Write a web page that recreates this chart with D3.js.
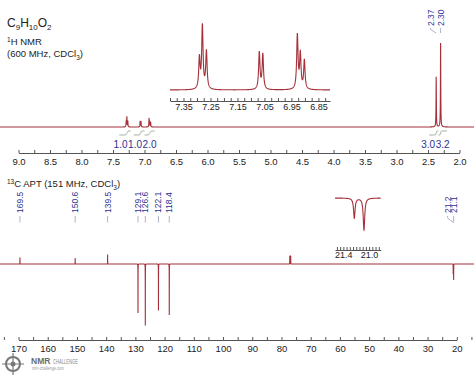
<!DOCTYPE html>
<html>
<head>
<meta charset="utf-8">
<script src="https://cdn.jsdelivr.net/npm/d3@7"></script>
<style>
body { margin: 0; background: #fff; }
text { font-family: "Liberation Sans", Arial, sans-serif; }
</style>
</head>
<body>
<svg width="474" height="376"></svg>
<script>
var svg = d3.select('svg')

// 1H peaks: ppm and intensity
var hPpm = [7.291, 7.280, 7.265, 7.069, 7.056, 6.928, 6.917, 6.902, 2.370, 2.300]
var hAmp = [4.9, 10, 6.0, 5.9, 5.6, 8.6, 5.6, 4.6, 50, 84]
var hLabelPpm = [2.37, 2.30]
// integrals
var intFrom = [7.40, 7.17, 7.00, 2.48, 2.335]
var intTo = [7.22, 7.00, 6.84, 2.335, 2.20]
var intVal = ['1.0', '1.0', '2.0', '3.0', '3.2']
var hTicks = d3.range(2, 9.001, 0.25)
var hInsetTicks = d3.range(6.825, 7.401, 0.025)
var hInsetLabels = [7.35, 7.25, 7.15, 7.05, 6.95, 6.85]

// 13C APT peaks: ppm and intensity (negative = CH/CH3)
var cPpm = [169.5, 150.6, 139.5, 129.1, 126.6, 122.1, 118.4, 77.16, 77.0, 76.84, 21.23, 21.08]
var cAmp = [6.5, 6, 9.5, -49, -61.5, -46.5, -51, 8, 8.5, 8, -10, -16]
var cLabelPpm = [169.5, 150.6, 139.5, 129.1, 126.6, 122.1, 118.4, 21.23, 21.08]
var cTicks = d3.range(15, 176, 5)
var cInsetTicks = d3.range(20.85, 21.51, 0.05)
var cInsetLabels = [21.4, 21.0]

var lineCol = '#a5303a'
var labCol = '#2e3192'
var fmt1 = d3.format('.1f')
var fmt2 = d3.format('.2f')

function lorentz (ppm, amp, hw) {
  return function (x) {
    var s = 0
    for (var i = 0; i < ppm.length; i++) {
      var u = (x - ppm[i]) / hw
      s += amp[i] / (1 + u * u)
    }
    return s
  }
}

function samples (lo, hi, step, ppm, hw) {
  var xs = d3.range(lo, hi, step)
  ppm.forEach(function (p) {
    d3.range(p - 40 * hw, p + 40 * hw, hw / 6).forEach(function (x) {
      if (x > lo && x < hi) xs.push(x)
    })
  })
  xs.push(hi)
  return xs.sort(d3.ascending)
}

// spread labels so they keep a minimum gap (right to left)
function spread (xs, gap) {
  var out = xs.slice()
  for (var i = out.length - 2; i >= 0; i--) {
    if (out[i + 1] - out[i] < gap) out[i] = out[i + 1] - gap
  }
  return out
}

function drawAxis (scale, y, ticks, labels, fmt, size, pad) {
  var g = svg.append('g')
    .attr('transform', 'translate(0,' + y + ')')
    .call(d3.axisBottom(scale)
      .tickValues(ticks)
      .tickSizeInner(-3)
      .tickSizeOuter(0)
      .tickPadding(pad)
      .tickFormat(function (d) {
        var hit = labels.some(function (l) { return Math.abs(l - d) < 1e-6 })
        return hit ? fmt(d) : ''
      }))
  g.select('.domain').attr('stroke', '#555')
  g.selectAll('.tick line').attr('stroke', '#555')
  g.selectAll('.tick text')
    .attr('fill', '#222')
    .style('font-size', size + 'px')
    .style('font-family', '"Liberation Sans", Arial, sans-serif')
  return g
}

// ---------- titles ----------
var t1 = svg.append('text').attr('x', 7).attr('y', 27).attr('fill', '#222').style('font-size', '12px')
t1.append('tspan').text('C')
t1.append('tspan').text('9').attr('dy', 3).style('font-size', '8px')
t1.append('tspan').text('H').attr('dy', -3)
t1.append('tspan').text('10').attr('dy', 3).style('font-size', '8px')
t1.append('tspan').text('O').attr('dy', -3)
t1.append('tspan').text('2').attr('dy', 3).style('font-size', '8px')

var t2 = svg.append('text').attr('x', 7).attr('y', 45).attr('fill', '#222').style('font-size', '9.5px')
t2.append('tspan').text('1').attr('dy', -3).style('font-size', '6.5px')
t2.append('tspan').text('H NMR').attr('dy', 3)

var t3 = svg.append('text').attr('x', 7).attr('y', 57).attr('fill', '#222').style('font-size', '9.5px')
t3.append('tspan').text('(600 MHz, CDCl')
t3.append('tspan').text('3').attr('dy', 2.5).style('font-size', '6.5px')
t3.append('tspan').text(')').attr('dy', -2.5)

var t4 = svg.append('text').attr('x', 7).attr('y', 187).attr('fill', '#222').style('font-size', '9.5px')
t4.append('tspan').text('13').attr('dy', -3).style('font-size', '6.5px')
t4.append('tspan').text('C APT (151 MHz, CDCl').attr('dy', 3)
t4.append('tspan').text('3').attr('dy', 2.5).style('font-size', '6.5px')
t4.append('tspan').text(')').attr('dy', -2.5)

// ---------- 1H main spectrum ----------
var hx = d3.scaleLinear().domain([9.0, 2.0]).range([18.5, 459.5])
var hy = d3.scaleLinear().domain([0, 84]).range([127, 43])
var hHw = 0.003
var hf = lorentz(hPpm, hAmp, hHw)
var hLo = hx.invert(474), hHi = hx.invert(0)
var hxs = samples(hLo, hHi, 0.01, hPpm, hHw)

var line1 = d3.line()
  .x(function (d) { return hx(d) })
  .y(function (d) { return hy(hf(d)) })

svg.append('path')
  .attr('d', line1(hxs))
  .attr('fill', 'none')
  .attr('stroke', lineCol)
  .attr('stroke-width', 1.1)

drawAxis(hx, 153, hTicks, d3.range(2, 9.01, 0.5), fmt1, 9.5, 5)

// integrals
var intMid = intFrom.map(function (f, i) { return hx((f + intTo[i]) / 2) })
var intLab = spread(intMid, 14.5)
intFrom.forEach(function (f, i) {
  var to = intTo[i]
  var F = function (x) {
    var s = 0
    hPpm.forEach(function (p, k) {
      if (p <= f && p >= to) s += hAmp[k] * Math.atan((x - p) / hHw)
    })
    return s
  }
  var total = F(f) - F(to)
  var xs = d3.range(to, f, (f - to) / 80).concat([f])
  var il = d3.line()
    .x(function (d) { return hx(d) })
    .y(function (d) { return 135 - 4 * (F(f) - F(d)) / total })
  svg.append('path')
    .attr('d', il(xs))
    .attr('fill', 'none')
    .attr('stroke', '#7d9c7d')
    .attr('stroke-width', 0.8)
  svg.append('text')
    .attr('x', intLab[i])
    .attr('y', 148)
    .attr('text-anchor', 'middle')
    .attr('fill', labCol)
    .style('font-size', '10px')
    .text(intVal[i])
})

// 1H peak labels
var hPk = hLabelPpm.map(function (p) { return hx(p) })
var hLab = spread(hPk, 10)
hLabelPpm.forEach(function (p, i) {
  svg.append('text')
    .attr('transform', 'translate(' + hLab[i] + ',26) rotate(-90)')
    .attr('dy', '0.35em')
    .attr('fill', labCol)
    .style('font-size', '8.5px')
    .text(fmt2(p))
  svg.append('path')
    .attr('d', d3.line()([[hLab[i], 28], [hLab[i], 29.5], [hPk[i], 33]]))
    .attr('fill', 'none')
    .attr('stroke', '#8a8fb0')
    .attr('stroke-width', 0.7)
})

// ---------- 1H inset ----------
var ix = d3.scaleLinear().domain([7.40, 6.807]).range([170, 330])
var iy = d3.scaleLinear().domain([0, 10]).range([90, 27])
var ixs = samples(6.807, 7.40, 0.002, hPpm.filter(function (p) { return p > 6.8 }), hHw)
svg.append('path')
  .attr('d', d3.line()
    .x(function (d) { return ix(d) })
    .y(function (d) { return iy(hf(d)) })(ixs))
  .attr('fill', 'none')
  .attr('stroke', lineCol)
  .attr('stroke-width', 1.1)

drawAxis(ix, 101, hInsetTicks, hInsetLabels, fmt2, 9, 3)

// ---------- 13C main spectrum ----------
var cx = d3.scaleLinear().domain([170, 20]).range([18.5, 456.8])
var cy = d3.scaleLinear().domain([0, -61.5]).range([264, 325.5])
var cHw = 0.014
var cf = lorentz(cPpm, cAmp, cHw)
var cxs = samples(cx.invert(474), cx.invert(0), 0.1, cPpm, cHw)

svg.append('path')
  .attr('d', d3.line()
    .x(function (d) { return cx(d) })
    .y(function (d) { return cy(cf(d)) })(cxs))
  .attr('fill', 'none')
  .attr('stroke', lineCol)
  .attr('stroke-width', 1.1)

drawAxis(cx, 340, cTicks, d3.range(20, 171, 10), d3.format('d'), 9.5, 5)

// 13C labels
var cPk = cLabelPpm.map(function (p) { return cx(p) })
var cLab = spread(cPk, 6)
cLabelPpm.forEach(function (p, i) {
  svg.append('text')
    .attr('transform', 'translate(' + cLab[i] + ',213) rotate(-90)')
    .attr('dy', '0.35em')
    .attr('fill', labCol)
    .style('font-size', '8.5px')
    .text(fmt1(p))
  svg.append('path')
    .attr('d', d3.line()([[cLab[i], 216], [cLab[i], 218], [cPk[i], 222.5]]))
    .attr('fill', 'none')
    .attr('stroke', '#8a8fb0')
    .attr('stroke-width', 0.7)
})

// ---------- 13C inset ----------
var jx = d3.scaleLinear().domain([21.53, 20.82]).range([335, 380.7])
var jy = d3.scaleLinear().domain([0, -16]).range([198, 230])
var jxs = samples(20.82, 21.53, 0.005, [21.23, 21.08], cHw)
svg.append('path')
  .attr('d', d3.line()
    .x(function (d) { return jx(d) })
    .y(function (d) { return jy(cf(d)) })(jxs))
  .attr('fill', 'none')
  .attr('stroke', lineCol)
  .attr('stroke-width', 1.1)

drawAxis(jx, 250, cInsetTicks, cInsetLabels, fmt1, 9, 2)

// ---------- logo ----------
var logo = svg.append('g').attr('transform', 'translate(13,364)')
logo.append('circle').attr('r', 7).attr('fill', 'none').attr('stroke', '#777').attr('stroke-width', 2)
logo.append('circle').attr('r', 2.5).attr('fill', '#777')
logo.append('path').attr('d', 'M-11,0H11M0,-11V11').attr('stroke', '#777').attr('stroke-width', 1.2)
svg.append('text').attr('x', 31).attr('y', 364).attr('fill', '#6d6d6d')
  .style('font-size', '8.5px').style('font-weight', 'bold').text('NMR')
svg.append('text').attr('x', 53).attr('y', 364).attr('fill', '#8a8a8a')
  .attr('textLength', 25).attr('lengthAdjust', 'spacingAndGlyphs')
  .style('font-size', '7.5px')
  .text('CHALLENGE')
svg.append('text').attr('x', 32).attr('y', 370).attr('fill', '#999')
  .attr('textLength', 32).attr('lengthAdjust', 'spacingAndGlyphs')
  .style('font-size', '4.5px').text('nmr-challenge.com')
</script>
</body>
</html>
